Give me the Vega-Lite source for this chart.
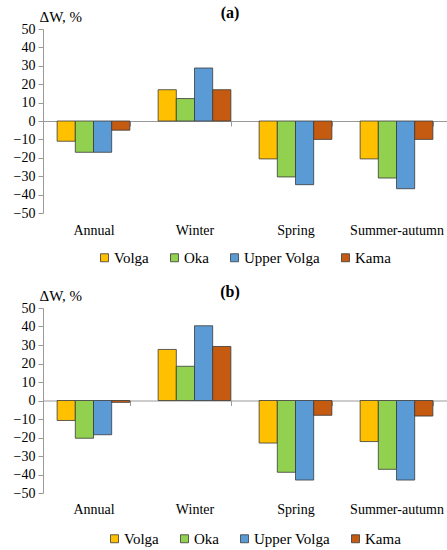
{
  "$schema": "https://vega.github.io/schema/vega-lite/v6.json",
  "background": "white",
  "padding": {"left": 13, "top": 5, "right": 0, "bottom": 0},
  "datasets": {
    "flow": [
      {"panel": "a", "season": "Annual", "river": "Volga", "dw": -11},
      {"panel": "a", "season": "Annual", "river": "Oka", "dw": -17},
      {"panel": "a", "season": "Annual", "river": "Upper Volga", "dw": -17},
      {"panel": "a", "season": "Annual", "river": "Kama", "dw": -5},
      {"panel": "a", "season": "Winter", "river": "Volga", "dw": 17},
      {"panel": "a", "season": "Winter", "river": "Oka", "dw": 12.2},
      {"panel": "a", "season": "Winter", "river": "Upper Volga", "dw": 28.8},
      {"panel": "a", "season": "Winter", "river": "Kama", "dw": 17},
      {"panel": "a", "season": "Spring", "river": "Volga", "dw": -20.6},
      {"panel": "a", "season": "Spring", "river": "Oka", "dw": -30.4},
      {"panel": "a", "season": "Spring", "river": "Upper Volga", "dw": -34.6},
      {"panel": "a", "season": "Spring", "river": "Kama", "dw": -10},
      {"panel": "a", "season": "Summer-autumn", "river": "Volga", "dw": -20.6},
      {"panel": "a", "season": "Summer-autumn", "river": "Oka", "dw": -31},
      {"panel": "a", "season": "Summer-autumn", "river": "Upper Volga", "dw": -36.8},
      {"panel": "a", "season": "Summer-autumn", "river": "Kama", "dw": -10},
      {"panel": "b", "season": "Annual", "river": "Volga", "dw": -10.8},
      {"panel": "b", "season": "Annual", "river": "Oka", "dw": -20.4},
      {"panel": "b", "season": "Annual", "river": "Upper Volga", "dw": -18.5},
      {"panel": "b", "season": "Annual", "river": "Kama", "dw": -1},
      {"panel": "b", "season": "Winter", "river": "Volga", "dw": 27.6},
      {"panel": "b", "season": "Winter", "river": "Oka", "dw": 18.5},
      {"panel": "b", "season": "Winter", "river": "Upper Volga", "dw": 40.4},
      {"panel": "b", "season": "Winter", "river": "Kama", "dw": 29.2},
      {"panel": "b", "season": "Spring", "river": "Volga", "dw": -23},
      {"panel": "b", "season": "Spring", "river": "Oka", "dw": -38.8},
      {"panel": "b", "season": "Spring", "river": "Upper Volga", "dw": -43},
      {"panel": "b", "season": "Spring", "river": "Kama", "dw": -8},
      {"panel": "b", "season": "Summer-autumn", "river": "Volga", "dw": -22.2},
      {"panel": "b", "season": "Summer-autumn", "river": "Oka", "dw": -37.2},
      {"panel": "b", "season": "Summer-autumn", "river": "Upper Volga", "dw": -43},
      {"panel": "b", "season": "Summer-autumn", "river": "Kama", "dw": -8.4}
    ]
  },
  "config": {
    "font": "Liberation Serif",
    "view": {"stroke": null},
    "title": {"font": "Liberation Serif", "fontSize": 16, "fontWeight": "bold", "color": "black", "anchor": "middle", "dx": -15, "offset": -12},
    "axis": {"labelFont": "Liberation Serif", "titleFont": "Liberation Serif", "labelColor": "black", "titleColor": "black", "labelFontSize": 14, "grid": false},
    "legend": {"labelFont": "Liberation Serif", "labelFontSize": 15, "labelColor": "black"}
  },
  "vconcat": [
    {
      "title": "(a)",
      "width": 404,
      "height": 184,
      "data": {"name": "flow"},
      "transform": [{"filter": "datum.panel === 'a'"}],
      "mark": {"type": "bar", "stroke": "#3a3a3a", "strokeWidth": 0.8},
      "encoding": {
        "x": {
          "field": "season", "type": "nominal",
          "sort": ["Annual", "Winter", "Spring", "Summer-autumn"],
          "scale": {"paddingInner": 0.28, "paddingOuter": 0.14},
          "axis": {"title": null, "labelAngle": 0, "offset": -92, "domainColor": "#9a9a9a", "tickColor": "#9a9a9a", "tickBand": "extent", "tickSize": 5, "labelPadding": 97, "labelBaseline": "top", "labelFont": "Liberation Serif"}
        },
        "xOffset": {"field": "river", "type": "nominal", "sort": ["Volga", "Oka", "Upper Volga", "Kama"]},
        "y": {
          "field": "dw", "type": "quantitative",
          "scale": {"domain": [-50, 50], "nice": false},
          "axis": {"title": "ΔW, %", "titleAngle": 0, "titleAlign": "left", "titleBaseline": "middle", "titleX": -4, "titleY": -13, "titleFontSize": 15, "titleFontWeight": "normal", "titleFont": "Liberation Serif", "labelFont": "Liberation Serif", "values": [-50, -40, -30, -20, -10, 0, 10, 20, 30, 40, 50], "labelExpr": "replace(datum.label, '-', '−')", "domainColor": "#9a9a9a", "tickColor": "#9a9a9a", "tickSize": 5, "labelPadding": 3}
        },
        "color": {
          "field": "river", "type": "nominal",
          "sort": ["Volga", "Oka", "Upper Volga", "Kama"],
          "scale": {"domain": ["Volga", "Oka", "Upper Volga", "Kama"], "range": ["#ffc000", "#92d050", "#5b9bd5", "#c55a11"]},
          "legend": {"title": null, "orient": "none", "legendX": 54, "legendY": 221, "direction": "horizontal", "labelFont": "Liberation Serif", "symbolType": "square", "symbolSize": 64, "symbolStrokeColor": "#3a3a3a", "symbolStrokeWidth": 0.8, "symbolOpacity": 1, "columnPadding": 18, "labelOffset": 2}
        }
      }
    },
    {
      "title": "(b)",
      "width": 404,
      "height": 185,
      "data": {"name": "flow"},
      "transform": [{"filter": "datum.panel === 'b'"}],
      "mark": {"type": "bar", "stroke": "#3a3a3a", "strokeWidth": 0.8},
      "encoding": {
        "x": {
          "field": "season", "type": "nominal",
          "sort": ["Annual", "Winter", "Spring", "Summer-autumn"],
          "scale": {"paddingInner": 0.28, "paddingOuter": 0.14},
          "axis": {"title": null, "labelAngle": 0, "offset": -92.5, "domainColor": "#9a9a9a", "tickColor": "#9a9a9a", "tickBand": "extent", "tickSize": 5, "labelPadding": 97, "labelBaseline": "top", "labelFont": "Liberation Serif"}
        },
        "xOffset": {"field": "river", "type": "nominal", "sort": ["Volga", "Oka", "Upper Volga", "Kama"]},
        "y": {
          "field": "dw", "type": "quantitative",
          "scale": {"domain": [-50, 50], "nice": false},
          "axis": {"title": "ΔW, %", "titleAngle": 0, "titleAlign": "left", "titleBaseline": "middle", "titleX": -4, "titleY": -13, "titleFontSize": 15, "titleFontWeight": "normal", "titleFont": "Liberation Serif", "labelFont": "Liberation Serif", "values": [-50, -40, -30, -20, -10, 0, 10, 20, 30, 40, 50], "labelExpr": "replace(datum.label, '-', '−')", "domainColor": "#9a9a9a", "tickColor": "#9a9a9a", "tickSize": 5, "labelPadding": 3}
        },
        "color": {
          "field": "river", "type": "nominal",
          "sort": ["Volga", "Oka", "Upper Volga", "Kama"],
          "scale": {"domain": ["Volga", "Oka", "Upper Volga", "Kama"], "range": ["#ffc000", "#92d050", "#5b9bd5", "#c55a11"]},
          "legend": {"title": null, "orient": "none", "legendX": 64, "legendY": 223, "direction": "horizontal", "labelFont": "Liberation Serif", "symbolType": "square", "symbolSize": 64, "symbolStrokeColor": "#3a3a3a", "symbolStrokeWidth": 0.8, "symbolOpacity": 1, "columnPadding": 18, "labelOffset": 2}
        }
      }
    }
  ],
  "spacing": 18,
  "resolve": {"legend": {"color": "independent"}, "scale": {"color": "independent"}}
}
